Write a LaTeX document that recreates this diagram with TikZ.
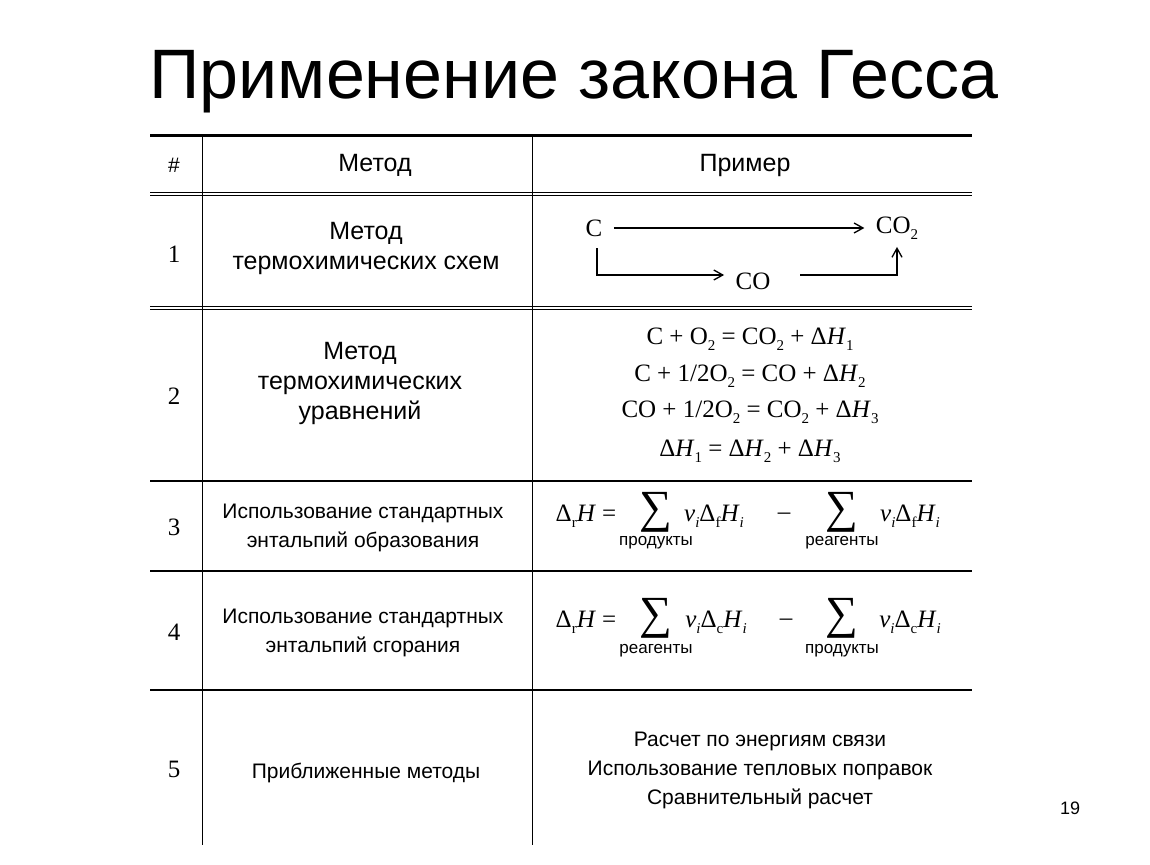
\documentclass[tikz,border=0pt]{standalone}
\usepackage{fontspec}
\setmainfont{Liberation Sans}
\newfontfamily\ser{Liberation Serif}
\usetikzlibrary{arrows.meta}
\newcommand{\iH}{\textit{H}}
\newcommand{\sub}[1]{\raisebox{-0.25em}{\fontsize{15}{15}\selectfont #1}}
\begin{document}
\begin{tikzpicture}[x=1pt,y=-1pt,
  txt/.style={font=\fontsize{25}{30}\selectfont, align=center},
  mtx/.style={font=\fontsize{21}{29}\selectfont, align=center},
  frm/.style={font=\ser\fontsize{25}{28}\selectfont},
  lbl/.style={font=\fontsize{17}{18}\selectfont},
  num/.style={font=\ser\fontsize{25}{28}\selectfont},
  sig/.style={font=\ser\fontsize{46}{46}\selectfont},
  rl/.style={line width=1pt},
  arr/.style={line width=1.3pt,-{Straight Barb[length=9pt,width=10pt,line width=1.3pt]}}]
\useasboundingbox[fill=white] (0,0) rectangle (1150,864);
\node[font=\fontsize{70}{80}\selectfont, anchor=west] (title) at (146,82) {Применение закона Гесса};
% table lines
\draw[line width=3pt] (150,135) -- (972,135);
\foreach \y in {192,195,306,309} \draw[rl] (150,\y) -- (972,\y);
\foreach \y in {481,571,690} \draw[rl,line width=1.3pt] (150,\y) -- (972,\y);
\draw[rl] (202,135) -- (202,845);
\draw[rl] (532,135) -- (532,845);
% header
\node[txt,font=\fontsize{21}{25}\selectfont] (h1) at (174,165) {\#};
\node[txt] (h2) at (375,165) {Метод};
\node[txt] (h3) at (745,165) {Пример};
% numbers
\node[num] (n1) at (174,254) {1};
\node[num] (n2) at (174,396) {2};
\node[num] (n3) at (174,527) {3};
\node[num] (n4) at (174,632) {4};
\node[num] (n5) at (174,769) {5};
% methods
\node[txt] (m1) at (366,248) {Метод\\термохимических схем};
\node[txt] (m2) at (360,383) {Метод\\термохимических\\уравнений};
\node[mtx] (m3) at (363,528) {Использование стандартных\\энтальпий образования};
\node[mtx] (m4) at (363,633) {Использование стандартных\\энтальпий сгорания};
\node[mtx] (m5) at (366,773) {Приближенные методы};
% row 1 scheme
\node[frm] (C) at (594,228) {C};
\node[frm] (CO2) at (897,228) {CO\sub{2}};
\node[frm] (CO) at (753,281) {CO};
\draw[arr] ([xshift=8pt]C.east) -- ([xshift=-8pt]CO2.west);
\coordinate (c1) at (597,248);
\coordinate (c2) at (597,275);
\coordinate (c3) at (800,275);
\coordinate (c4) at (897,275);
\draw[arr] (c1) -- (c2) -- ([xshift=-8pt]CO.west|-c2);
\draw[arr] (c3) -- (c4) -- ([yshift=-4pt]CO2.south);
% row 2
\node[frm] (e1) at (750,339) {C + O\sub{2} = CO\sub{2} + Δ\iH\sub{1}};
\node[frm] (e2) at (750,376) {C + 1/2O\sub{2} = CO + Δ\iH\sub{2}};
\node[frm] (e3) at (750,412) {CO + 1/2O\sub{2} = CO\sub{2} + Δ\iH\sub{3}};
\node[frm] (e4) at (750,451) {Δ\iH\sub{1} = Δ\iH\sub{2} + Δ\iH\sub{3}};
% row 3
\node[frm] (a3) at (586,516) {Δ\sub{r}\iH\ =};
\node[sig] (s31) at (656,512) {∑};
\node[frm] (b3) at (714,516) {\textit{ν\sub{i}}Δ\sub{f}\iH\sub{\textit{i}}};
\node[frm] (d3) at (784,516) {–};
\node[sig] (s32) at (842,512) {∑};
\node[frm] (f3) at (910,516) {\textit{ν\sub{i}}Δ\sub{f}\iH\sub{\textit{i}}};
\node[lbl] (l31) at (656,543) {продукты};
\node[lbl] (l32) at (842,543) {реагенты};
% row 4
\node[frm] (a4) at (586,622) {Δ\sub{r}\iH\ =};
\node[sig] (s41) at (656,618) {∑};
\node[frm] (b4) at (716,622) {\textit{ν\sub{i}}Δ\sub{c}\iH\sub{\textit{i}}};
\node[frm] (d4) at (786,622) {–};
\node[sig] (s42) at (842,618) {∑};
\node[frm] (f4) at (910,622) {\textit{ν\sub{i}}Δ\sub{c}\iH\sub{\textit{i}}};
\node[lbl] (l41) at (656,651) {реагенты};
\node[lbl] (l42) at (842,651) {продукты};
% row 5
\node[mtx] (p5) at (760,770) {Расчет по энергиям связи\\Использование тепловых поправок\\Сравнительный расчет};
\node[font=\fontsize{18}{20}\selectfont] (pg) at (1070,808) {19};
\end{tikzpicture}
\end{document}
